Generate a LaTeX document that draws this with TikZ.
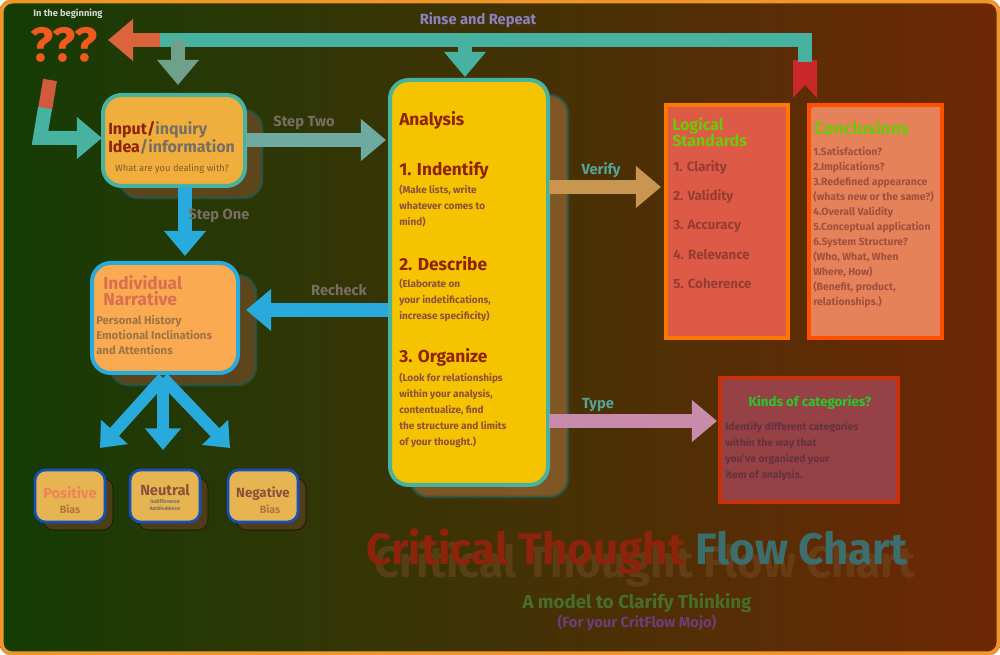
\documentclass[tikz,border=0pt]{standalone}
\usepackage{fontspec}
\setmainfont{Fira Sans}
\usetikzlibrary{arrows.meta,shadings}
\definecolor{teal1}{RGB}{72,178,160}
\definecolor{sky}{RGB}{40,170,220}
\definecolor{deepblue}{RGB}{20,80,190}
\definecolor{orng}{RGB}{240,175,60}
\definecolor{gtext}{RGB}{120,110,100}
\definecolor{dred}{RGB}{140,35,10}
\definecolor{stonetxt}{RGB}{140,80,60}
\definecolor{bgl}{RGB}{20,60,5}
\definecolor{bgr}{RGB}{110,40,5}
\definecolor{frame}{RGB}{240,150,40}
\definecolor{begc}{RGB}{215,215,215}
\definecolor{qc}{RGB}{240,90,30}
\definecolor{rrc}{RGB}{140,130,190}
\definecolor{redtab}{RGB}{200,40,40}
\definecolor{arrred}{RGB}{220,100,60}
\definecolor{arrgt}{RGB}{110,160,140}
\definecolor{lred}{RGB}{210,90,60}
\definecolor{st2c}{RGB}{110,170,160}
\definecolor{narf}{RGB}{250,170,80}
\definecolor{narc}{RGB}{220,110,80}
\definecolor{biasf}{RGB}{230,180,80}
\definecolor{posc}{RGB}{240,130,90}
\definecolor{anf}{RGB}{245,195,0}
\definecolor{verc}{RGB}{200,150,80}
\definecolor{typc}{RGB}{200,140,170}
\definecolor{lsf}{RGB}{220,90,70}
\definecolor{lsd}{RGB}{255,120,0}
\definecolor{grn}{RGB}{110,200,10}
\definecolor{lstx}{RGB}{150,60,50}
\definecolor{ccf}{RGB}{230,130,90}
\definecolor{ccd}{RGB}{255,80,0}
\definecolor{cctx}{RGB}{160,80,60}
\definecolor{kf}{RGB}{150,65,70}
\definecolor{kd}{RGB}{200,50,10}
\definecolor{kg}{RGB}{40,200,40}
\definecolor{ktx}{RGB}{100,50,60}
\definecolor{flow}{RGB}{60,110,110}
\definecolor{subg}{RGB}{70,110,40}
\definecolor{subp}{RGB}{110,60,120}
\begin{document}
\begin{tikzpicture}[x=0.75pt,y=-0.75pt,
  fat/.style={line width=#1*0.75pt,-{Triangle[width=2.9*#1*0.75pt,length=1.8*#1*0.75pt]}},
  fat/.default=14,
  box/.style={rounded corners=14pt,line width=3pt},
  shadowbox/.style={rounded corners=14pt,fill=black!40!brown,opacity=0.7,draw=teal1!50!black,line width=2pt},
  lbl/.style={font=\bfseries\fontsize{11}{12}\selectfont,text=gtext},
  rect/.style={line width=2.5pt},
  every node/.style={inner sep=0pt}]
\useasboundingbox (0,0) rectangle (1000,655);
% background
\shade[left color=bgl,right color=bgr,rounded corners=8pt] (0,0) rectangle (1000,655);
\draw[line width=3pt,rounded corners=8pt,draw=frame] (1.5,1.5) rectangle (998.5,653.5);
% top text
\node[font=\bfseries\fontsize{7}{8}\selectfont,text=begc] (beg) at (68,14) {In the beginning};
\node[font=\bfseries\fontsize{36}{36}\selectfont,text=qc] (q) at (64,45) {???};
\node[lbl,text=rrc] (rr) at (478,20) {Rinse and Repeat};
% loop arrow
\coordinate (le) at (108,40);
\fill[redtab] (793,60) -- (817,60) -- (817,98) -- (805,85) -- (793,98) -- cycle;
\draw[teal1,line width=10.5pt] (805,62) -- (805,40) -- (150,40);
\draw[fat,arrred] (160,40) -- (le);
\draw[fat,arrgt] (178,40) -- (178,85);
\draw[fat,teal1] (465,40) -- (465,77);
% L arrow
\draw[line width=10.5pt,lred] (50,80) -- (45,110);
\draw[line width=10.5pt,teal1] (45,108) -- (40,138) -- (75,138);
\draw[fat,teal1] (70,138) -- (102,138);
% input box
\draw[shadowbox] (120,110) rectangle (262,198);
\draw[box,fill=orng,draw=teal1] (103,95) rectangle (245,186);
\node[anchor=west,align=left,font=\bfseries\fontsize{12}{13}\selectfont] (inp) at (108,138) {\textcolor{dred}{Input/}\textcolor{gtext}{inquiry}\\\textcolor{dred}{Idea}\textcolor{gtext}{/information}};
\node[font=\fontsize{7}{8}\selectfont,text=brown!70!black] (wd) at (172,169) {What are you dealing with?};
% step two
\draw[fat,st2c] (246,140) -- (386,140);
\node[lbl] (st2) at (304,123) {Step Two};
% step one
\draw[fat,sky] (185,187) -- (185,256);
\node[lbl] (st1) at (219,216) {Step One};
% narrative box
\draw[shadowbox] (110,275) rectangle (256,385);
\draw[box,fill=narf,draw=sky] (92,263) rectangle (238,373);
\node[anchor=west,align=left,font=\bfseries\fontsize{13}{12}\selectfont,text=narc] (nar) at (103,291) {Individual\\Narrative};
\node[anchor=west,align=left,font=\bfseries\fontsize{8.5}{11}\selectfont,text=gtext!70!orange] (ph) at (96,335) {Personal History\\Emotional Inclinations\\and Attentions};
% recheck
\draw[fat,sky] (392,310) -- (246,310);
\node[lbl] (rc) at (339,290) {Recheck};
% three arrows
\draw[fat=12,sky] (163,378) -- (100,448);
\draw[fat=12,sky] (163,378) -- (163,450);
\draw[fat=12,sky] (163,378) -- (230,448);
% bias boxes
\foreach \x in {35,130,228}{
  \draw[rounded corners=8pt,fill=black!50!brown,opacity=0.7] (\x+8,478) rectangle (\x+78,530);
  \draw[rounded corners=8pt,line width=2pt,fill=biasf,draw=deepblue] (\x,470) rectangle (\x+70,522);
}
\node[font=\bfseries\fontsize{11}{11}\selectfont,text=posc] (p1) at (70,493) {Positive};
\node[font=\bfseries\fontsize{8}{8}\selectfont,text=gtext!60!orange] (p2) at (70,509) {Bias};
\node[font=\bfseries\fontsize{11}{11}\selectfont,text=stonetxt] (n1) at (165,490) {Neutral};
\node[font=\bfseries\fontsize{4}{5}\selectfont,text=gtext,align=center] (n2) at (165,505) {Indifference\\Ambivalence};
\node[font=\bfseries\fontsize{10}{10}\selectfont,text=stonetxt] (g1) at (263,494) {Negative};
\node[font=\bfseries\fontsize{8}{8}\selectfont,text=gtext!60!orange] (g2) at (270,509) {Bias};
% analysis
\draw[shadowbox,fill=black!20!brown] (410,95) rectangle (568,497);
\draw[box,fill=anf,draw=teal1] (390,80) rectangle (548,485);
\begin{scope}[every node/.style={anchor=west,align=left,text=dred,inner sep=0pt}]
\node[font=\bfseries\fontsize{13}{13}\selectfont] (an) at (399,120) {Analysis};
\node[font=\bfseries\fontsize{13}{13}\selectfont] (i1) at (399,170) {1. Indentify};
\node[font=\bfseries\fontsize{7.5}{12}\selectfont,text=stonetxt] (i1t) at (399,206) {(Make lists, write\\whatever comes to\\mind)};
\node[font=\bfseries\fontsize{13}{13}\selectfont] (i2) at (399,264) {2. Describe};
\node[font=\bfseries\fontsize{7.5}{12}\selectfont,text=stonetxt] (i2t) at (399,300) {(Elaborate on\\your indetifications,\\increase specificity)};
\node[font=\bfseries\fontsize{13}{13}\selectfont] (i3) at (399,357) {3. Organize};
\node[font=\bfseries\fontsize{7.5}{12}\selectfont,text=stonetxt] (i3t) at (399,410) {(Look for relationships\\within your analysis,\\contentualize, find\\the structure and limits\\of your thought.)};
\end{scope}
% verify & type
\draw[fat,verc] (549,187) -- (661,187);
\node[lbl,text=teal1!70!gray] (vf) at (601,170) {Verify};
\draw[fat,typc] (549,421) -- (717,421);
\node[lbl,text=teal1!70!gray] (ty) at (598,405) {Type};
% logical standards
\draw[rect,fill=lsf,draw=lsd] (666,105) rectangle (788,338);
\node[anchor=west,align=left,font=\bfseries\fontsize{12}{12}\selectfont,text=grn] (ls1) at (672,132) {Logical\\Standards};
\foreach \t [count=\i] in {Clarity,Validity,Accuracy,Relevance,Coherence}
  \node[anchor=west,font=\bfseries\fontsize{10}{10}\selectfont,text=lstx] (lsi\i) at (673,139+\i*29) {\i. \t};
% conclusions
\draw[rect,fill=ccf,draw=ccd] (809,105) rectangle (942,338);
\node[anchor=west,font=\bfseries\fontsize{13}{13}\selectfont,text=grn] (cc) at (814,128) {Conclusions};
\node[anchor=north west,align=left,font=\bfseries\fontsize{7.8}{11.2}\selectfont,text=cctx] (cct) at (813,147) {1.Satisfaction?\\2.Implications?\\3.Redefined appearance\\(whats new or the same?)\\4.Overall Validity\\5.Conceptual application\\6.System Structure?\\(Who, What, When\\Where, How)\\(Benefit, product,\\relationships.)};
% kinds
\draw[rect,fill=kf,draw=kd] (720,378) rectangle (898,502);
\node[font=\bfseries\fontsize{10}{10}\selectfont,text=kg] (kc) at (810,403) {Kinds of categories?};
\node[anchor=north west,align=left,font=\bfseries\fontsize{7.8}{12}\selectfont,text=ktx] (kt) at (725,422) {Identify different categories\\within the way  that\\you've organized your\\item of analysis.};
% title
\node[font=\bfseries\fontsize{33}{33}\selectfont,text=black!40!brown,opacity=0.5] (tsh) at (645,565) {Critical Thought Flow Chart};
\node[font=\bfseries\fontsize{33}{33}\selectfont] (title) at (637,552) {\textcolor{dred}{Critical Thought} \textcolor{flow}{Flow Chart}};
\node[font=\bfseries\fontsize{14}{14}\selectfont,text=subg] (sub) at (637,603) {A model to Clarify Thinking};
\node[font=\bfseries\fontsize{11}{11}\selectfont,text=subp] (sub2) at (637,623) {(For your CritFlow Mojo)};
\end{tikzpicture}
\end{document}
